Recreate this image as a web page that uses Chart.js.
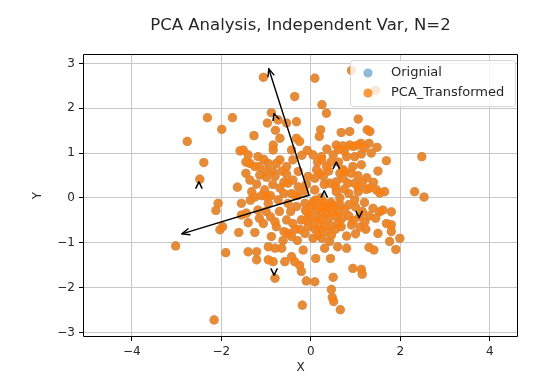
<!DOCTYPE html>
<html>
<head>
<meta charset="utf-8">
<script src="https://cdn.jsdelivr.net/npm/chart.js@4.4.1/dist/chart.umd.min.js"></script>
<style>
  html, body { margin: 0; padding: 0; background: #fff; }
</style>
</head>
<body>
<canvas id="chart" width="544" height="385"></canvas>
<script>
// transformed points
const pcaX = [-1.06,0.09,0.91,1.45,-0.36,0.25,0.35,-0.88,1.06,-2.31,-1.75,-0.32,-0.97,-0.73,-0.54,-1.99,-0.79,0.22,0.19,0.68,
  0.87,1.26,1.32,-1.27,-0.69,-0.32,-2.76,-0.25,-0.84,0.57,0.72,0.87,1.12,1.30,1.48,0.36,-1.58,-1.51,-0.84,-0.43,
  -0.08,-1.40,-1.18,0.05,0.24,0.50,0.80,0.98,1.13,1.35,2.48,1.69,-1.05,-0.69,-0.40,0.24,-2.39,-1.36,-0.77,-0.95,
  -1.25,-0.54,0.35,0.94,1.13,0.72,0.13,0.76,-0.28,-1.14,-0.80,-0.54,-0.06,0.09,0.28,0.72,-0.99,-0.40,-1.36,-2.48,
  -1.21,-0.51,0.42,0.57,0.83,0.98,-0.28,-1.64,-0.69,-1.03,0.09,1.05,1.32,1.47,1.65,2.32,-1.32,-0.60,-0.43,0.57,
  1.06,1.24,2.53,-1.25,-0.99,-0.73,0.98,-2.07,-1.55,-0.95,-0.51,-0.13,-0.32,0.31,0.50,1.39,-2.12,-1.18,-0.06,0.13,
  0.76,1.54,1.80,-1.44,-1.55,-0.90,0.57,1.09,-1.15,-0.54,-0.21,0.24,-0.80,1.21,-1.06,-0.40,0.09,0.61,1.69,0.91,
  -1.97,-0.77,-0.06,0.68,-2.03,1.23,-1.61,-1.25,-0.51,-0.13,1.50,0.16,0.46,-0.88,-0.43,1.99,0.42,1.76,0.60,0.80,
  0.31,1.30,1.41,1.90,-0.95,-0.80,-0.65,-0.17,-1.90,-1.40,-1.21,-0.43,0.44,0.11,-1.21,-0.95,-0.84,-0.58,-0.36,-0.25,
  0.94,1.13,1.15,-0.21,0.50,-0.80,-0.10,0.09,0.46,0.48,0.51,-0.19,0.66,-2.16,-3.02,0.00,0.10,0.22,0.30,0.35,
  0.40,0.45,0.20,0.00,-0.12,0.30,0.50,0.15,0.05,0.25,-0.30,-0.62,-0.25,0.85,1.20,1.45,0.80,1.00,-0.35,-0.15,
  -1.45,-0.20,0.62,1.25,1.50,1.54,1.61,1.80,1.80,
  0.95,1.05,1.20,0.62,0.75,0.15,0.45,0.65,0.90,1.05,0.40,0.55,0.75,0.85,1.15,1.40,0.30,0.20,-0.10,0.65,
  -1.45,-1.15,-1.00,-0.85,-0.65,-0.60,-0.85,-1.10,-0.90,-0.30,-1.35,-1.00,-0.70,-0.45,-0.60,-1.40,-0.35,0.05,0.25,0.45,
  0.65,0.35,0.55,0.10,-0.10,0.20,0.40,0.70,0.85,0.60,1.00,1.15,1.30,0.95,1.10];
const pcaY = [2.69,2.67,2.84,2.40,2.26,2.08,1.89,1.90,1.76,1.79,1.79,1.70,1.67,1.74,1.67,1.53,1.51,1.52,1.37,1.46,
  1.48,1.52,1.48,1.39,1.33,1.33,1.26,1.26,1.18,1.18,1.16,1.18,1.22,1.22,1.13,1.09,1.05,1.07,1.07,1.07,
  1.06,0.96,0.92,0.96,0.92,0.96,0.92,0.92,0.98,1.00,0.92,0.83,0.86,0.85,0.85,0.85,0.79,0.77,0.77,0.77,
  0.70,0.70,0.70,0.70,0.74,0.63,0.63,0.59,0.59,0.51,0.48,0.53,0.48,0.44,0.48,0.44,0.46,0.40,0.40,0.42,
  0.31,0.33,0.33,0.36,0.33,0.33,0.25,0.24,0.22,0.18,0.18,0.25,0.22,0.18,0.14,0.14,0.14,0.10,0.10,0.14,
  0.14,0.19,0.02,0.02,0.03,-0.04,-0.04,-0.12,-0.12,-0.12,-0.12,-0.12,-0.19,-0.19,-0.16,-0.23,-0.28,-0.27,-0.34,-0.27,
  -0.27,-0.31,-0.31,-0.34,-0.38,-0.42,-0.42,-0.42,-0.45,-0.49,-0.49,-0.49,-0.53,-0.53,-0.57,-0.57,-0.57,-0.57,-0.57,-0.60,
  -0.64,-0.64,-0.64,-0.64,-0.71,-0.70,-0.77,-0.77,-0.79,-0.79,-0.79,-0.83,-0.83,-0.86,-0.86,-0.90,-0.97,-0.97,-1.09,-1.12,
  -1.12,-1.10,-1.16,-1.15,-1.09,-1.12,-1.12,-1.16,-1.22,-1.20,-1.20,-1.31,-1.35,-1.35,-1.38,-1.38,-1.42,-1.42,-1.42,-1.50,
  -1.57,-1.59,-1.70,-1.64,-1.77,-1.79,-1.85,-1.87,-2.04,-2.22,-2.31,-2.39,-2.49,-2.72,-1.07,-0.20,-0.05,0.00,-0.10,-0.35,
  -0.45,-0.62,-0.70,-0.42,-0.28,-0.62,-0.30,-0.45,-0.90,-0.90,-0.95,-0.95,-0.70,-0.15,-0.10,-0.45,-0.85,-0.80,0.05,0.15,
  0.55,0.95,0.80,0.45,0.60,0.11,-0.27,-0.60,-0.75,
  1.15,1.18,1.12,1.08,1.05,0.80,0.80,0.55,0.55,0.50,0.60,0.25,0.20,0.10,0.35,0.35,0.30,0.55,0.30,0.00,
  0.80,0.70,0.60,0.60,0.60,0.35,0.30,0.05,0.05,0.05,-0.05,-0.30,-0.30,-0.30,-0.75,-0.55,-0.70,-0.10,-0.30,-0.10,
  -0.15,-0.75,-0.70,-0.70,-0.50,-0.20,-0.20,-0.45,-0.40,-0.30,-0.20,-0.30,-0.40,-0.50,-0.65];
// the original points sit under the transformed ones and are not visible
const origX = pcaX;
const origY = pcaY;

// principal-component arrows: start and end, data units
const compStartX = [-0.04, -0.04];
const compStartY = [0.06, 0.06];
const compEndX = [-0.94, -2.88];
const compEndY = [2.88, -0.80];

// small arrow heads on a few points: tip and direction
const headX = [-2.50, -0.82, 0.57, 0.30, 1.08, -0.82];
const headY = [0.36, 1.88, 0.80, 0.16, -0.44, -1.72];
const headDX = [0, -0.3, 0, 0, 0, 0];
const headDY = [1, 1, 1, 1, -1, -1];

const titleText = "PCA Analysis, Independent Var, N=2";
const seriesNames = ["Orignial", "PCA_Transformed"];
const xLimits = [-5.09, 4.63];
const yLimits = [-3.10, 3.21];
const xTicks = [-4, -2, 0, 2, 4];
const yTicks = [-3, -2, -1, 0, 1, 2, 3];

const FONT = "'DejaVu Sans', sans-serif";
const BLUE = "rgba(31,119,180,0.5)";
const ORANGE = "rgba(255,127,14,0.8)";

function toPoints(xs, ys) {
  return xs.map((x, i) => ({ x: x, y: ys[i] }));
}

function fmtTick(v) {
  return String(v).replace("-", "\u2212");
}

function drawHead(ctx, tx, ty, ang, len, spread) {
  ctx.beginPath();
  ctx.moveTo(tx - len * Math.cos(ang - spread), ty - len * Math.sin(ang - spread));
  ctx.lineTo(tx, ty);
  ctx.lineTo(tx - len * Math.cos(ang + spread), ty - len * Math.sin(ang + spread));
  ctx.stroke();
}

const overlay = {
  id: "overlay",
  afterDatasetsDraw(chart) {
    const ctx = chart.ctx;
    const xs = chart.scales.x, ys = chart.scales.y;
    const a = chart.chartArea;
    ctx.save();
    ctx.strokeStyle = "#000";
    ctx.lineCap = "round";
    ctx.lineJoin = "round";

    // component arrows
    ctx.lineWidth = 1.4;
    for (let i = 0; i < compEndX.length; i++) {
      const x0 = xs.getPixelForValue(compStartX[i]), y0 = ys.getPixelForValue(compStartY[i]);
      const x1 = xs.getPixelForValue(compEndX[i]), y1 = ys.getPixelForValue(compEndY[i]);
      ctx.beginPath();
      ctx.moveTo(x0, y0);
      ctx.lineTo(x1, y1);
      ctx.stroke();
      drawHead(ctx, x1, y1, Math.atan2(y1 - y0, x1 - x0), 8, 0.4);
    }

    // small heads
    ctx.lineWidth = 1.5;
    for (let i = 0; i < headX.length; i++) {
      const tx = xs.getPixelForValue(headX[i]), ty = ys.getPixelForValue(headY[i]);
      drawHead(ctx, tx, ty, Math.atan2(-headDY[i], headDX[i]), 7, 0.45);
    }

    // frame
    ctx.lineWidth = 1;
    ctx.lineCap = "butt";
    ctx.strokeRect(Math.round(a.left) + 0.5, Math.round(a.top) + 0.5,
      Math.round(a.right - a.left) - 1, Math.round(a.bottom - a.top) - 1);

    // legend box
    const lx = a.right - 168, ly = a.top + 6, lw = 165, lh = 46;
    ctx.beginPath();
    ctx.roundRect(lx + 0.5, ly + 0.5, lw, lh, 3);
    ctx.fillStyle = "rgba(255,255,255,0.8)";
    ctx.fill();
    ctx.strokeStyle = "rgba(204,204,204,0.8)";
    ctx.stroke();

    const colors = [BLUE, ORANGE];
    ctx.font = "13px " + FONT;
    ctx.textBaseline = "middle";
    for (let i = 0; i < seriesNames.length; i++) {
      const cy = ly + 13 + i * 20;
      ctx.beginPath();
      ctx.arc(lx + 18, cy, 4.6, 0, Math.PI * 2);
      ctx.fillStyle = colors[i];
      ctx.fill();
      ctx.fillStyle = "#262626";
      ctx.fillText(seriesNames[i], lx + 41, cy);
    }

    // title, centred over the plot area
    ctx.font = "16.5px " + FONT;
    ctx.textAlign = "center";
    ctx.textBaseline = "alphabetic";
    ctx.fillStyle = "#262626";
    ctx.fillText(titleText, (a.left + a.right) / 2, 30);
    ctx.restore();
  }
};

new Chart(document.getElementById("chart"), {
  type: "scatter",
  data: {
    datasets: [
      {
        label: seriesNames[0],
        data: toPoints(origX, origY),
        backgroundColor: BLUE,
        borderWidth: 0,
        pointRadius: 4.6,
        order: 2
      },
      {
        label: seriesNames[1],
        data: toPoints(pcaX, pcaY),
        backgroundColor: ORANGE,
        borderWidth: 0,
        pointRadius: 4.6,
        order: 1
      }
    ]
  },
  options: {
    responsive: false,
    animation: false,
    layout: { padding: { left: 0, right: 26, top: 54, bottom: 0 } },
    plugins: {
      legend: { display: false },
      tooltip: { enabled: false },
      title: { display: false }
    },
    scales: {
      x: {
        type: "linear",
        min: xLimits[0],
        max: xLimits[1],
        afterBuildTicks: s => { s.ticks = xTicks.map(v => ({ value: v })); },
        afterFit: s => { s.height = 48; },
        ticks: {
          callback: fmtTick,
          color: "#262626",
          font: { family: FONT, size: 12 },
          padding: 4,
          maxRotation: 0,
          autoSkip: false
        },
        grid: { color: "#c8c8c8", lineWidth: 1, tickColor: "#000", tickLength: 4 },
        border: { display: false },
        title: {
          display: true,
          text: "X",
          color: "#262626",
          font: { family: FONT, size: 12 },
          padding: { top: 0, bottom: 10 }
        }
      },
      y: {
        type: "linear",
        min: yLimits[0],
        max: yLimits[1],
        afterBuildTicks: s => { s.ticks = yTicks.map(v => ({ value: v })); },
        afterFit: s => { s.width = 83; },
        ticks: {
          callback: fmtTick,
          color: "#262626",
          font: { family: FONT, size: 12 },
          padding: 4,
          autoSkip: false
        },
        grid: { color: "#c8c8c8", lineWidth: 1, tickColor: "#000", tickLength: 4 },
        border: { display: false },
        title: {
          display: true,
          text: "Y",
          color: "#262626",
          font: { family: FONT, size: 12 },
          padding: { top: 31, bottom: 0 }
        }
      }
    }
  },
  plugins: [overlay]
});
</script>
</body>
</html>
